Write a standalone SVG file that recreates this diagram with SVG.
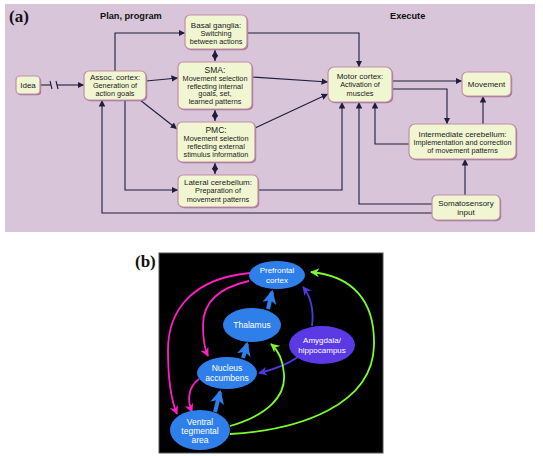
<svg xmlns="http://www.w3.org/2000/svg" width="543" height="456" viewBox="0 0 543 456">
<style>
.lbl{font-family:"Liberation Serif",serif;font-weight:bold;font-size:17px;fill:#111}
.hd{font-family:"Liberation Sans",Arial,sans-serif;font-weight:bold;font-size:9.2px;fill:#111}
.nb{fill:#f1f6d2;stroke:#c38ea8;stroke-width:1.2}
.sh{fill:#a07594}
.t1{font-family:"Liberation Sans",Arial,sans-serif;font-size:8px;fill:#1a1a1a;text-anchor:middle}
.t2{font-family:"Liberation Sans",Arial,sans-serif;font-size:7.3px;fill:#1a1a1a;text-anchor:middle}
.cn{fill:none;stroke:#1e1e3c;stroke-width:1.1}
.ca{marker-end:url(#ah)}
.cb{marker-end:url(#ah);marker-start:url(#ah)}
.el{fill:#2f7fea}
.bt{font-family:"Liberation Sans",Arial,sans-serif;font-size:8px;fill:#fff;text-anchor:middle}
.thick{fill:none;stroke:#2f7fea;stroke-width:4;marker-end:url(#bh)}
.mg{fill:none;stroke:#ff1ec4;stroke-width:1.8;marker-end:url(#mh)}
.gr{fill:none;stroke:#7cfc2e;stroke-width:1.8;marker-end:url(#gh)}
.pu{fill:none;stroke:#4b3be0;stroke-width:1.8;marker-end:url(#ph)}
</style>
<defs>
<marker id="ah" viewBox="0 0 10 10" refX="10" refY="5" markerWidth="6.5" markerHeight="6.5" markerUnits="userSpaceOnUse" orient="auto-start-reverse"><path d="M0,0 L10,5 L0,10 z" fill="#1e1e3c"/></marker>
<marker id="bh" viewBox="0 0 12 12" refX="10" refY="6" markerWidth="14" markerHeight="14" markerUnits="userSpaceOnUse" orient="auto"><path d="M0,0 L12,6 L0,12 L3,6 z" fill="#2f7fea"/></marker>
<marker id="mh" viewBox="0 0 10 10" refX="9" refY="5" markerWidth="9" markerHeight="9" markerUnits="userSpaceOnUse" orient="auto"><path d="M0,0 L10,5 L0,10 L3,5 z" fill="#ff1ec4"/></marker>
<marker id="gh" viewBox="0 0 10 10" refX="9" refY="5" markerWidth="9" markerHeight="9" markerUnits="userSpaceOnUse" orient="auto"><path d="M0,0 L10,5 L0,10 L3,5 z" fill="#7cfc2e"/></marker>
<marker id="ph" viewBox="0 0 10 10" refX="9" refY="5" markerWidth="9" markerHeight="9" markerUnits="userSpaceOnUse" orient="auto"><path d="M0,0 L10,5 L0,10 L3,5 z" fill="#4b3be0"/></marker>
</defs>
<rect x="0" y="0" width="543" height="456" fill="#ffffff"/>
<!-- Panel a -->
<rect x="5" y="4" width="530" height="228" fill="#d8c5d9"/>
<text class="lbl" x="9" y="22">(a)</text>
<text class="hd" x="100" y="19">Plan, program</text>
<text class="hd" x="390" y="19">Execute</text>

<g id="connectors-a">
<path class="cn" d="M40,85 H51"/>
<path class="cn" d="M50,81 L52,89 M56,81 L58,89"/>
<path class="cn ca" d="M57,85 H84"/>
<path class="cn ca" d="M115,71 V33 H185"/>
<path class="cn ca" d="M146,81 L178,78"/>
<path class="cn ca" d="M140,100 L177,129"/>
<path class="cn ca" d="M125,100 V190 H178"/>
<path class="cn ca" d="M432,213 H102 V100"/>
<path class="cn ca" d="M247,33 H359 V67"/>
<path class="cn ca" d="M252,77 L328,82"/>
<path class="cn ca" d="M255,128 L328,94"/>
<path class="cn ca" d="M258,190 H342 V102"/>
<path class="cn ca" d="M432,204 H359 V102"/>
<path class="cn ca" d="M409,144 H375 V102"/>
<path class="cn ca" d="M392,81 H462"/>
<path class="cn ca" d="M392,89 H447 V124"/>
<path class="cn ca" d="M483,124 V96"/>
<path class="cn ca" d="M465,195 V159"/>
<path class="cn cb" d="M215,50 V61"/>
<path class="cn cb" d="M215,110 V121"/>
<path class="cn cb" d="M215,163 V174"/>
</g>

<g id="idea">
<rect class="sh" x="17.2" y="77.2" width="24" height="18" rx="4"/>
<rect class="nb" x="16" y="76" width="24" height="18" rx="4"/>
<text class="t1" x="28" y="88">Idea</text>
</g>
<g id="assoc">
<rect class="sh" x="85.2" y="72.2" width="62" height="29" rx="5"/>
<rect class="nb" x="84" y="71" width="62" height="29" rx="5"/>
<text class="t1" x="115" y="79.5">Assoc. cortex:</text>
<text class="t2" x="115" y="88">Generation of</text>
<text class="t2" x="115" y="96">action goals</text>
</g>
<g id="basal">
<rect class="sh" x="186.2" y="16.2" width="62" height="34" rx="5"/>
<rect class="nb" x="185" y="15" width="62" height="34" rx="5"/>
<text class="t1" x="216" y="27.5">Basal ganglia:</text>
<text class="t2" x="216" y="35.5">Switching</text>
<text class="t2" x="216" y="43.5">between actions</text>
</g>
<g id="sma">
<rect class="sh" x="179.2" y="63.2" width="74" height="47" rx="5"/>
<rect class="nb" x="178" y="62" width="74" height="47" rx="5"/>
<text class="t1" x="215" y="73" style="font-size:8.5px">SMA:</text>
<text class="t2" x="215" y="81">Movement selection</text>
<text class="t2" x="215" y="88.5">reflecting internal</text>
<text class="t2" x="215" y="96">goals, set,</text>
<text class="t2" x="215" y="103.5">learned patterns</text>
</g>
<g id="pmc">
<rect class="sh" x="178.2" y="123.2" width="78" height="40" rx="5"/>
<rect class="nb" x="177" y="122" width="78" height="40" rx="5"/>
<text class="t1" x="216" y="132.5" style="font-size:8.5px">PMC:</text>
<text class="t2" x="216" y="140.5">Movement selection</text>
<text class="t2" x="216" y="148.5">reflecting external</text>
<text class="t2" x="216" y="156.5">stimulus information</text>
</g>
<g id="lateral">
<rect class="sh" x="179.2" y="176.2" width="80" height="32" rx="5"/>
<rect class="nb" x="178" y="175" width="80" height="32" rx="5"/>
<text class="t1" x="218" y="184.5">Lateral cerebellum:</text>
<text class="t2" x="218" y="193">Preparation of</text>
<text class="t2" x="218" y="201.5">movement patterns</text>
</g>
<g id="motor">
<rect class="sh" x="329.2" y="68.2" width="64" height="35" rx="6"/>
<rect class="nb" x="328" y="67" width="64" height="35" rx="6"/>
<text class="t1" x="360" y="78.5">Motor cortex:</text>
<text class="t2" x="360" y="87">Activation of</text>
<text class="t2" x="360" y="95.5">muscles</text>
</g>
<g id="movement">
<rect class="sh" x="463.2" y="73.2" width="49" height="24" rx="5"/>
<rect class="nb" x="462" y="72" width="49" height="24" rx="5"/>
<text class="t1" x="486.5" y="86.5">Movement</text>
</g>
<g id="intermediate">
<rect class="sh" x="410.2" y="125.2" width="107" height="35" rx="6"/>
<rect class="nb" x="409" y="124" width="107" height="35" rx="6"/>
<text class="t1" x="462.5" y="136.5">Intermediate cerebellum:</text>
<text class="t2" x="462.5" y="144.5">Implementation and correction</text>
<text class="t2" x="462.5" y="152.5">of movement patterns</text>
</g>
<g id="somato">
<rect class="sh" x="433.2" y="196.2" width="68" height="25" rx="5"/>
<rect class="nb" x="432" y="195" width="68" height="25" rx="5"/>
<text class="t1" x="466" y="205.5">Somatosensory</text>
<text class="t1" x="466" y="214.5">input</text>
</g>

<!-- Panel b -->
<text class="lbl" x="135" y="267">(b)</text>
<rect x="159" y="253" width="224" height="200" fill="#000" stroke="#555" stroke-width="1"/>

<g id="connectors-b">
<path class="thick" d="M268,309 L272,292"/>
<path class="thick" d="M243,358 L247,344"/>
<path class="thick" d="M215,412 L220,392"/>
<path class="pu" d="M312,326 C314,310 311,297 303,287"/>
<path class="pu" d="M298,357 C285,366 272,370 259,373"/>
<path class="mg" d="M250,273 C195,278 168,308 168,350 C168,382 171,400 177,414"/>
<path class="mg" d="M249,281 C218,288 203,303 203,325 C203,340 205,350 208,356"/>
<path class="mg" d="M199,379 C188,387 187,400 192,412"/>
<path class="gr" d="M230,426 C268,415 286,396 284,374 C283,360 278,350 271,344"/>
<path class="gr" d="M230,434 C300,430 373,405 374,345 C375,300 352,276 311,272"/>
</g>

<g id="prefrontal">
<ellipse class="el" cx="277" cy="275" rx="28" ry="14"/>
<text class="bt" x="277" y="273">Prefrontal</text>
<text class="bt" x="277" y="283">cortex</text>
</g>
<g id="thalamus">
<ellipse class="el" cx="252" cy="325" rx="29" ry="17"/>
<text class="bt" x="252" y="328" style="font-size:8.5px">Thalamus</text>
</g>
<g id="amygdala">
<ellipse cx="322" cy="345" rx="33" ry="19" fill="#5b3ae6"/>
<text class="bt" x="322" y="343">Amygdala/</text>
<text class="bt" x="322" y="353">hippocampus</text>
</g>
<g id="nacc">
<ellipse class="el" cx="227" cy="373" rx="30" ry="16"/>
<text class="bt" x="227" y="371" style="font-size:8.5px">Nucleus</text>
<text class="bt" x="227" y="381" style="font-size:8.5px">accumbens</text>
</g>
<g id="vta">
<ellipse class="el" cx="200" cy="430" rx="30" ry="20"/>
<text class="bt" x="200" y="425" style="font-size:8.5px">Ventral</text>
<text class="bt" x="200" y="434" style="font-size:8.5px">tegmental</text>
<text class="bt" x="200" y="443" style="font-size:8.5px">area</text>
</g>
</svg>
